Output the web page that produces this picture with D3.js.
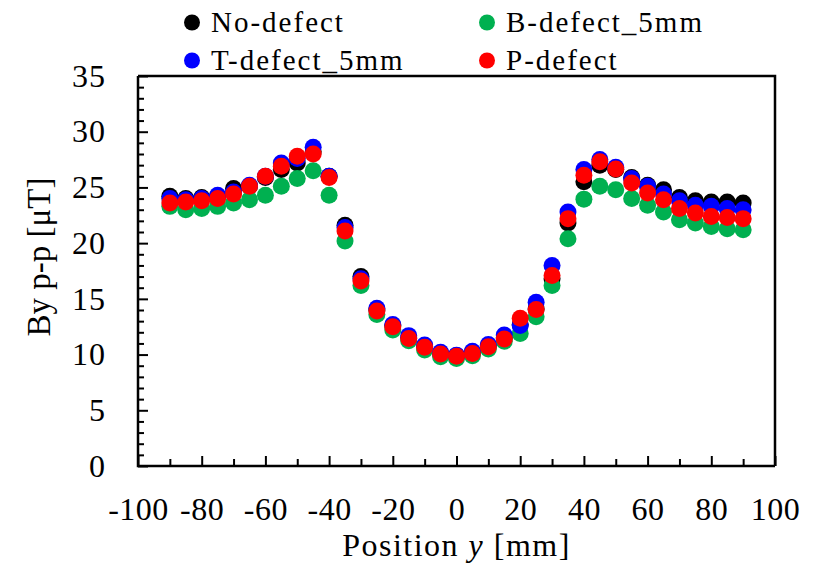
<!DOCTYPE html>
<head>
<meta charset="utf-8">
<style>
    body { margin: 0; background: #fff; }
    text { font-family: "Liberation Serif", serif; fill: #000; }
</style>
</head>
<body>
    <script src="https://d3js.org/d3.v7.min.js"></script>
    <script>

    ///////////////////////////
    ////////// DATA ///////////
    ///////////////////////////

    const positions = [-90, -85, -80, -75, -70, -65, -60, -55, -50, -45, -40, -35, -30, -25, -20, -15, -10, -5,
        0, 5, 10, 15, 20, 25, 30, 35, 40, 45, 50, 55, 60, 65, 70, 75, 80, 85, 90];

    const noDefect = [24.2, 24.0, 24.1, 24.2, 24.9, 25.1, 25.9, 26.6, 27.2, 28.2, 26.0, 21.6, 17.0, 14.0, 12.6, 11.5, 10.7, 10.1,
        9.9, 10.2, 10.8, 11.5, 12.7, 14.1, 16.8, 21.8, 25.5, 27.0, 26.6, 25.9, 25.2, 24.8, 24.1, 23.8, 23.7, 23.7, 23.6];
    const bDefect = [23.3, 23.0, 23.1, 23.3, 23.6, 23.9, 24.3, 25.1, 25.8, 26.5, 24.3, 20.2, 16.2, 13.6, 12.2, 11.25, 10.4, 9.8,
        9.65, 9.9, 10.5, 11.2, 11.9, 13.4, 16.2, 20.4, 23.95, 25.1, 24.8, 24.0, 23.4, 22.8, 22.1, 21.8, 21.5, 21.3, 21.2];
    const tDefect = [24.0, 23.9, 24.0, 24.3, 24.6, 25.2, 26.0, 27.2, 27.6, 28.6, 26.0, 21.4, 16.8, 14.15, 12.7, 11.7, 10.85, 10.2,
        9.95, 10.3, 10.9, 11.75, 12.6, 14.7, 18.0, 22.8, 26.6, 27.5, 26.8, 25.8, 25.1, 24.4, 23.8, 23.4, 23.3, 23.1, 23.0];
    const pDefect = [23.6, 23.7, 23.8, 24.0, 24.4, 25.1, 26.0, 26.9, 27.8, 28.0, 25.9, 21.1, 16.6, 13.9, 12.5, 11.45, 10.65, 10.05,
        9.85, 10.1, 10.7, 11.4, 13.25, 14.05, 17.1, 22.2, 26.1, 27.3, 26.65, 25.4, 24.5, 23.9, 23.1, 22.7, 22.4, 22.3, 22.2];

    const seriesNames = ['No-defect', 'B-defect_5mm', 'T-defect_5mm', 'P-defect'];
    const seriesColors = ['#000000', '#00B050', '#0000FF', '#FF0000'];
    const seriesValues = [noDefect, bDefect, tDefect, pDefect];

    const xTicks = [-100, -80, -60, -40, -20, 0, 20, 40, 60, 80, 100];
    const yTicks = [0, 5, 10, 15, 20, 25, 30, 35];

    ///////////////////////////
    ////////// SETUP //////////
    ///////////////////////////

    const W = 825, H = 568;
    const plot = { left: 138, right: 775, top: 76, bottom: 466 };

    let svg = d3.select('body').append('svg')
        .attr('width', W)
        .attr('height', H);

    const x = d3.scaleLinear().domain([-100, 100]).range([plot.left, plot.right]);
    const y = d3.scaleLinear().domain([0, 35]).range([plot.bottom, plot.top]);

    //////////////////////////
    ////////// AXES //////////
    //////////////////////////

    // frame (top + right)
    svg.append('path')
        .attr('d', `M${plot.left},${plot.top}H${plot.right}V${plot.bottom}`)
        .attr('fill', 'none').attr('stroke', '#000').attr('stroke-width', 2.5);

    // x minor ticks
    svg.append('g')
        .attr('transform', `translate(0,${plot.bottom})`)
        .call(d3.axisBottom(x).tickValues(d3.range(-90, 100, 20)).tickSize(-7).tickFormat(''))
        .call(g => g.select('.domain').remove())
        .call(g => g.selectAll('line').attr('stroke-width', 2));

    // x major ticks + labels (plain hyphen as minus, like the original)
    svg.append('g')
        .attr('transform', `translate(0,${plot.bottom})`)
        .call(d3.axisBottom(x).tickValues(xTicks).tickSize(-10).tickPadding(31).tickFormat(d => String(d)))
        .call(g => g.select('.domain').remove())
        .call(g => g.selectAll('line').attr('stroke-width', 2))
        .call(g => g.selectAll('text')
            .attr('font-family', '"Liberation Serif", serif')
            .attr('font-size', 32)
            .attr('letter-spacing', 0.5));

    // y minor ticks
    svg.append('g')
        .attr('transform', `translate(${plot.left},0)`)
        .call(d3.axisLeft(y).tickValues(d3.range(1, 35, 1).filter(v => v % 5 !== 0)).tickSize(-6).tickFormat(''))
        .call(g => g.select('.domain').remove())
        .call(g => g.selectAll('line').attr('stroke-width', 2));

    // y major ticks + labels
    svg.append('g')
        .attr('transform', `translate(${plot.left},0)`)
        .call(d3.axisLeft(y).tickValues(yTicks).tickSize(-10).tickPadding(32))
        .call(g => g.select('.domain').remove())
        .call(g => g.selectAll('line').attr('stroke-width', 2))
        .call(g => g.selectAll('text')
            .attr('font-family', '"Liberation Serif", serif')
            .attr('font-size', 32)
            .attr('letter-spacing', 1));

    // axis lines
    svg.append('path')
        .attr('d', `M${plot.left},${plot.top}V${plot.bottom}H${plot.right}`)
        .attr('fill', 'none').attr('stroke', '#000').attr('stroke-width', 2.5);

    // axis titles
    svg.append('text')
        .attr('x', (plot.left + plot.right) / 2)
        .attr('y', 556)
        .attr('text-anchor', 'middle')
        .attr('font-size', 32)
        .attr('letter-spacing', 1.5)
        .html('Position <tspan font-style="italic">y</tspan> [mm]');

    svg.append('text')
        .attr('transform', 'translate(50,257) rotate(-90)')
        .attr('text-anchor', 'middle')
        .attr('font-size', 33)
        .text('By p-p [μT]');

    //////////////////////////
    ////////// DRAW //////////
    //////////////////////////

    seriesValues.forEach((vals, i) => {
        svg.append('g')
            .selectAll('circle')
            .data(vals)
            .join('circle')
            .attr('cx', (d, j) => x(positions[j]))
            .attr('cy', d => y(d))
            .attr('r', 8.5)
            .attr('fill', seriesColors[i]);
    });

    ////////////////////////////
    ////////// LEGEND //////////
    ////////////////////////////

    const legendCols = [192, 487];
    const legendRows = [32, 70];

    seriesNames.forEach((name, i) => {
        const cx = legendCols[i % 2];
        const by = legendRows[Math.floor(i / 2)];
        let item = svg.append('g');
        item.append('circle')
            .attr('cx', cx).attr('cy', by - 9.5)
            .attr('r', 8)
            .attr('fill', seriesColors[i]);
        item.append('text')
            .attr('x', cx + 19).attr('y', by)
            .attr('font-size', 29)
            .attr('letter-spacing', 2)
            .text(name);
    });

    </script>
</body>
